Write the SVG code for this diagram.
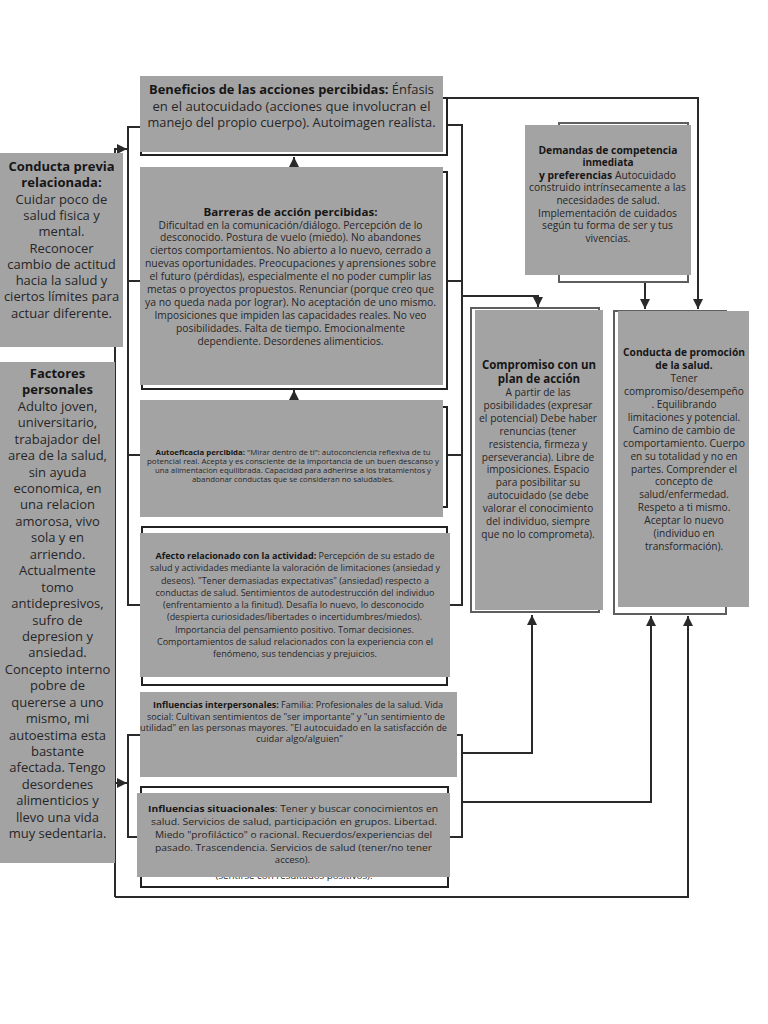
<svg xmlns="http://www.w3.org/2000/svg" width="768" height="1024" viewBox="0 0 768 1024">
<style>
.box{fill:#a4a3a4}
.frame{fill:#fff;stroke:#222;stroke-width:2}
.frame2{fill:#fff;stroke:#5e5e5e;stroke-width:2}
.conn{fill:none;stroke:#2a2a2a;stroke-width:2}
text{font-family:"Open Sans","DejaVu Sans",sans-serif;fill:#262626;text-anchor:middle}
.b{font-weight:700;fill:#161616}
.t13{font-size:13px}
.t10{font-size:10.1px}
.t7{font-size:7.4px}
.t8{font-size:8.4px}
.t86{font-size:8.6px}
.t95{font-size:9.5px}
</style>
<defs>
<marker id="ah" markerUnits="userSpaceOnUse" markerWidth="10" markerHeight="10" viewBox="0 0 10 10" refX="10" refY="5" orient="auto">
<path d="M0,0 L10,5 L0,10 z" fill="#2a2a2a"/>
</marker>
</defs>
<rect width="768" height="1024" fill="#fff"/>

<g id="connectors">
<path class="conn" d="M447,98 H698 V309" marker-end="url(#ah)"/>
<path class="conn" d="M447,125 H462 V605 H447 M447,281 H462 M447,455 H462"/>
<path class="conn" d="M462,296 H538 V307" marker-end="url(#ah)"/>
<path class="conn" d="M140,127 H128 V605 H140 M128,281 H140 M128,455 H140"/>
<path class="conn" d="M115,897 V149 H127" marker-end="url(#ah)"/>
<path class="conn" d="M115,897 H688 V616" marker-end="url(#ah)"/>
<path class="conn" d="M108,783 H127" marker-end="url(#ah)"/>
<path class="conn" d="M645,282 V309" marker-end="url(#ah)"/>
<path class="conn" d="M294,168 V157" marker-end="url(#ah)"/>
<path class="conn" d="M294,400 V390" marker-end="url(#ah)"/>
<path class="conn" d="M128,735 H462 V837 H128 Z"/>
<path class="conn" d="M462,753 H532 V615" marker-end="url(#ah)"/>
<path class="conn" d="M462,802 H651 V616" marker-end="url(#ah)"/>
</g>

<g id="beneficios">
<rect class="frame" x="141" y="98" width="306" height="57"/>
<rect class="box" x="140" y="76" width="303" height="76"/>
<text class="t13" x="291.5" y="94" textLength="285" lengthAdjust="spacingAndGlyphs"><tspan class="b">Beneficios de las acciones percibidas:</tspan> Énfasis</text>
<text class="t13" x="291.5" y="110.5" textLength="278" lengthAdjust="spacingAndGlyphs">en el autocuidado (acciones que involucran el</text>
<text class="t13" x="291.5" y="127" textLength="288" lengthAdjust="spacingAndGlyphs">manejo del propio cuerpo). Autoimagen realista.</text>
</g>

<g id="conducta-previa">
<rect class="box" x="0" y="153" width="123" height="194"/>
<text class="t13 b" x="61.5" y="171">Conducta previa</text>
<text class="t13 b" x="61.5" y="187.3">relacionada:</text>
<text class="t13" x="61.5" y="203.6">Cuidar poco de</text>
<text class="t13" x="61.5" y="219.9">salud fisica y</text>
<text class="t13" x="61.5" y="236.2">mental.</text>
<text class="t13" x="61.5" y="252.5">Reconocer</text>
<text class="t13" x="61.5" y="268.8">cambio de actitud</text>
<text class="t13" x="61.5" y="285.1">hacia la salud y</text>
<text class="t13" x="61.5" y="301.4">ciertos límites para</text>
<text class="t13" x="61.5" y="317.7">actuar diferente.</text>
</g>

<g id="factores-personales">
<rect class="box" x="0" y="362" width="115" height="501"/>
<text class="t13 b" x="57.5" y="378">Factores</text>
<text class="t13 b" x="57.5" y="394.4">personales</text>
<text class="t13" x="57.5" y="410.9">Adulto joven,</text>
<text class="t13" x="57.5" y="427.3">universitario,</text>
<text class="t13" x="57.5" y="443.7">trabajador del</text>
<text class="t13" x="57.5" y="460.2">area de la salud,</text>
<text class="t13" x="57.5" y="476.6">sin ayuda</text>
<text class="t13" x="57.5" y="493">economica, en</text>
<text class="t13" x="57.5" y="509.4">una relacion</text>
<text class="t13" x="57.5" y="525.9">amorosa, vivo</text>
<text class="t13" x="57.5" y="542.3">sola y en</text>
<text class="t13" x="57.5" y="558.7">arriendo.</text>
<text class="t13" x="57.5" y="575.2">Actualmente</text>
<text class="t13" x="57.5" y="591.6">tomo</text>
<text class="t13" x="57.5" y="608">antidepresivos,</text>
<text class="t13" x="57.5" y="624.5">sufro de</text>
<text class="t13" x="57.5" y="640.9">depresion y</text>
<text class="t13" x="57.5" y="657.3">ansiedad.</text>
<text class="t13" x="57.5" y="673.7">Concepto interno</text>
<text class="t13" x="57.5" y="690.2">pobre de</text>
<text class="t13" x="57.5" y="706.6">quererse a uno</text>
<text class="t13" x="57.5" y="723">mismo, mi</text>
<text class="t13" x="57.5" y="739.5">autoestima esta</text>
<text class="t13" x="57.5" y="755.9">bastante</text>
<text class="t13" x="57.5" y="772.3">afectada. Tengo</text>
<text class="t13" x="57.5" y="788.8">desordenes</text>
<text class="t13" x="57.5" y="805.2">alimenticios y</text>
<text class="t13" x="57.5" y="821.6">llevo una vida</text>
<text class="t13" x="57.5" y="838">muy sedentaria.</text>
</g>

<g id="barreras">
<rect class="frame" x="142" y="172" width="305" height="217"/>
<rect class="box" x="140" y="167" width="303" height="218"/>
<text class="b" style="font-size:11.3px" x="290.5" y="216" textLength="174" lengthAdjust="spacingAndGlyphs">Barreras de acción percibidas:</text>
<text class="t10" x="290.5" y="228.5" textLength="264" lengthAdjust="spacingAndGlyphs">Dificultad en la comunicación/diálogo. Percepción de lo</text>
<text class="t10" x="290.5" y="241.4" textLength="261" lengthAdjust="spacingAndGlyphs">desconocido. Postura de vuelo (miedo). No abandones</text>
<text class="t10" x="290.5" y="254.3" textLength="281" lengthAdjust="spacingAndGlyphs">ciertos comportamientos. No abierto a lo nuevo, cerrado a</text>
<text class="t10" x="290.5" y="267.2" textLength="291" lengthAdjust="spacingAndGlyphs">nuevas oportunidades. Preocupaciones y aprensiones sobre</text>
<text class="t10" x="290.5" y="280.1" textLength="282" lengthAdjust="spacingAndGlyphs">el futuro (pérdidas), especialmente el no poder cumplir las</text>
<text class="t10" x="290.5" y="293" textLength="287" lengthAdjust="spacingAndGlyphs">metas o proyectos propuestos. Renunciar (porque creo que</text>
<text class="t10" x="290.5" y="305.9" textLength="291" lengthAdjust="spacingAndGlyphs">ya no queda nada por lograr). No aceptación de uno mismo.</text>
<text class="t10" x="290.5" y="318.8" textLength="272" lengthAdjust="spacingAndGlyphs">Imposiciones que impiden las capacidades reales. No veo</text>
<text class="t10" x="290.5" y="331.7" textLength="229" lengthAdjust="spacingAndGlyphs">posibilidades. Falta de tiempo. Emocionalmente</text>
<text class="t10" x="290.5" y="344.6" textLength="186" lengthAdjust="spacingAndGlyphs">dependiente. Desordenes alimenticios.</text>
</g>

<g id="autoeficacia">
<rect class="frame" x="142" y="407" width="305" height="100"/>
<rect class="box" x="140" y="400" width="303" height="117"/>
<text class="t7" x="293" y="455.2" textLength="275" lengthAdjust="spacingAndGlyphs"><tspan class="b">Autoeficacia percibida:</tspan> "Mirar dentro de ti": autoconciencia reflexiva de tu</text>
<text class="t7" x="293" y="463.8" textLength="292" lengthAdjust="spacingAndGlyphs">potencial real. Acepta y es consciente de la importancia de un buen descanso y</text>
<text class="t7" x="293" y="472.6" textLength="276" lengthAdjust="spacingAndGlyphs">una alimentacion equilibrada. Capacidad para adherirse a los tratamientos y</text>
<text class="t7" x="293" y="482" textLength="202" lengthAdjust="spacingAndGlyphs">abandonar conductas que se consideran no saludables.</text>
</g>

<g id="afecto">
<rect class="frame" x="142" y="527" width="305" height="158"/>
<rect class="box" x="140" y="533" width="310" height="144"/>
<text class="t8" x="295" y="559" textLength="279" lengthAdjust="spacingAndGlyphs"><tspan class="b">Afecto relacionado con la actividad:</tspan> Percepción de su estado de</text>
<text class="t8" x="295" y="571.3" textLength="290" lengthAdjust="spacingAndGlyphs">salud y actividades mediante la valoración de limitaciones (ansiedad y</text>
<text class="t8" x="295" y="583.8" textLength="268" lengthAdjust="spacingAndGlyphs">deseos). "Tener demasiadas expectativas" (ansiedad) respecto a</text>
<text class="t8" x="295" y="596.1" textLength="279" lengthAdjust="spacingAndGlyphs">conductas de salud. Sentimientos de autodestrucción del individuo</text>
<text class="t8" x="293.5" y="608.3" textLength="261" lengthAdjust="spacingAndGlyphs">(enfrentamiento a la finitud). Desafía lo nuevo, lo desconocido</text>
<text class="t8" x="294.5" y="620.4" textLength="255" lengthAdjust="spacingAndGlyphs">(despierta curiosidades/libertades o incertidumbres/miedos).</text>
<text class="t8" x="294.5" y="632.5" textLength="239" lengthAdjust="spacingAndGlyphs">Importancia del pensamiento positivo. Tomar decisiones.</text>
<text class="t8" x="295" y="644.7" textLength="276" lengthAdjust="spacingAndGlyphs">Comportamientos de salud relacionados con la experiencia con el</text>
<text class="t8" x="295" y="656.6" textLength="164" lengthAdjust="spacingAndGlyphs">fenómeno, sus tendencias y prejuicios.</text>
</g>

<g id="influencias-interpersonales">
<rect class="box" x="140" y="692" width="317" height="85"/>
<text class="t86" x="298" y="708" textLength="290" lengthAdjust="spacingAndGlyphs"><tspan class="b">Influencias interpersonales:</tspan> Familia: Profesionales de la salud. Vida</text>
<text class="t86" x="296" y="719.7" textLength="298" lengthAdjust="spacingAndGlyphs">social: Cultivan sentimientos de "ser importante" y "un sentimiento de</text>
<text class="t86" x="293.5" y="730.8" textLength="307" lengthAdjust="spacingAndGlyphs">utilidad" en las personas mayores. "El autocuidado en la satisfacción de</text>
<text class="t86" x="299.5" y="742" textLength="87" lengthAdjust="spacingAndGlyphs">cuidar algo/alguien"</text>
</g>

<g id="influencias-situacionales">
<rect class="frame" x="141" y="787" width="307" height="100"/>
<text class="t95" x="294" y="878.5" textLength="157" lengthAdjust="spacingAndGlyphs">(sentirse con resultados positivos).</text>
<rect class="box" x="137" y="793" width="313" height="84"/>
<text class="t95" x="293" y="811.6" textLength="290" lengthAdjust="spacingAndGlyphs"><tspan class="b">Influencias situacionales</tspan>: Tener y buscar conocimientos en</text>
<text class="t95" x="294" y="825" textLength="286" lengthAdjust="spacingAndGlyphs">salud.  Servicios de salud, participación en grupos. Libertad.</text>
<text class="t95" x="293.5" y="837.6" textLength="277" lengthAdjust="spacingAndGlyphs">Miedo "profiláctico" o racional. Recuerdos/experiencias del</text>
<text class="t95" x="293.5" y="850.6" textLength="277" lengthAdjust="spacingAndGlyphs">pasado. Trascendencia. Servicios de salud (tener/no tener</text>
<text class="t95" x="292.5" y="863.3">acceso).</text>
</g>

<g id="demandas">
<rect class="frame2" x="559" y="123" width="129" height="159"/>
<rect class="box" x="525" y="125" width="166" height="150"/>
<text class="b" style="font-size:10px" x="608" y="153.5" textLength="139" lengthAdjust="spacingAndGlyphs">Demandas de competencia</text>
<text class="b" style="font-size:10px" x="608" y="166.1">inmediata</text>
<text class="t10" x="607.5" y="178.7" textLength="137" lengthAdjust="spacingAndGlyphs"><tspan class="b">y preferencias</tspan> Autocuidado</text>
<text class="t10" x="607.5" y="191.3" textLength="157" lengthAdjust="spacingAndGlyphs">construido intrínsecamente a las</text>
<text class="t10" x="608" y="203.9">necesidades de salud.</text>
<text class="t10" x="607.5" y="216.5" textLength="139" lengthAdjust="spacingAndGlyphs">Implementación de cuidados</text>
<text class="t10" x="607.5" y="229.1" textLength="131" lengthAdjust="spacingAndGlyphs">según tu forma de ser y tus</text>
<text class="t10" x="608" y="241.7">vivencias.</text>
</g>

<g id="compromiso">
<rect class="frame2" x="471" y="308" width="128" height="304"/>
<rect class="box" x="475" y="310" width="128" height="300"/>
<text class="b" style="font-size:11.5px" x="539" y="369" textLength="114" lengthAdjust="spacingAndGlyphs">Compromiso con un</text>
<text class="b" style="font-size:11.5px" x="539" y="383">plan de acción</text>
<text class="t10" x="538" y="396.2">A partir de las</text>
<text class="t10" x="538" y="409.1">posibilidades (expresar</text>
<text class="t10" x="538" y="421.9" textLength="118" lengthAdjust="spacingAndGlyphs">el potencial) Debe haber</text>
<text class="t10" x="538" y="434.8">renuncias (tener</text>
<text class="t10" x="538" y="447.6">resistencia, firmeza y</text>
<text class="t10" x="538" y="460.5">perseverancia). Libre de</text>
<text class="t10" x="538" y="473.3">imposiciones. Espacio</text>
<text class="t10" x="538" y="486.2">para posibilitar su</text>
<text class="t10" x="538" y="499">autocuidado (se debe</text>
<text class="t10" x="538" y="511.9">valorar el conocimiento</text>
<text class="t10" x="538" y="524.7">del individuo, siempre</text>
<text class="t10" x="538" y="537.6">que no lo comprometa).</text>
</g>

<g id="conducta-promocion">
<rect class="frame2" x="614" y="311" width="112" height="303"/>
<rect class="box" x="618" y="311" width="131" height="296"/>
<text class="b" style="font-size:10.2px" x="684" y="356.3" textLength="122" lengthAdjust="spacingAndGlyphs">Conducta de promoción</text>
<text class="b" style="font-size:10.2px" x="684" y="369">de la salud.</text>
<text class="t10" x="684" y="381.8">Tener</text>
<text class="t10" x="684" y="394.8" textLength="120" lengthAdjust="spacingAndGlyphs">compromiso/desempeño</text>
<text class="t10" x="684" y="407.7">. Equilibrando</text>
<text class="t10" x="684" y="420.7">limitaciones y potencial.</text>
<text class="t10" x="684" y="433.6">Camino de cambio de</text>
<text class="t10" x="684" y="446.6" textLength="122" lengthAdjust="spacingAndGlyphs">comportamiento. Cuerpo</text>
<text class="t10" x="684" y="459.5">en su totalidad y no en</text>
<text class="t10" x="684" y="472.5">partes. Comprender el</text>
<text class="t10" x="684" y="485.4">concepto de</text>
<text class="t10" x="684" y="498.4">salud/enfermedad.</text>
<text class="t10" x="684" y="511.3">Respeto a ti mismo.</text>
<text class="t10" x="684" y="524.3">Aceptar lo nuevo</text>
<text class="t10" x="684" y="537.2">(individuo en</text>
<text class="t10" x="684" y="550.2">transformación).</text>
</g>
</svg>
